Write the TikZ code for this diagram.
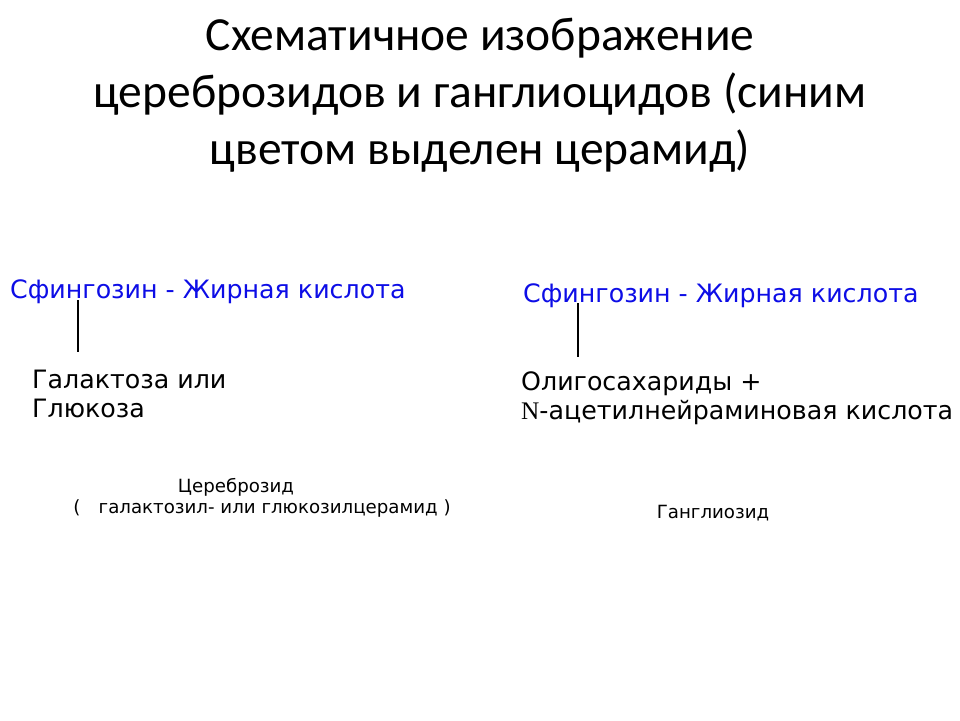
\documentclass[tikz,border=0pt]{standalone}
\usepackage{fontspec}
\setmainfont{DejaVu Sans}
\newfontfamily\titlefont{Carlito}
\newfontfamily\serifN{Liberation Serif}
\usepackage{tikz}
\usetikzlibrary{calc}
\definecolor{ceramide}{HTML}{0D0DE6}
\definecolor{ink}{HTML}{000000}
\tikzset{
  title/.style={text=ink, font=\titlefont\fontsize{47.5}{57}\selectfont, anchor=base, inner sep=0pt},
  lipid/.style={text=ceramide, font=\fontsize{25.3}{29}\selectfont, anchor=base west, inner sep=0pt},
  sugar/.style={text=ink, font=\fontsize{25.3}{29}\selectfont, anchor=base west, inner sep=0pt, align=left},
  caption/.style={text=ink, font=\fontsize{18.2}{21}\selectfont, anchor=base, inner sep=0pt},
  link/.style={draw=ink, line width=1.2pt},
}

\begin{document}
\begin{tikzpicture}[x=1pt, y=-1pt]
  \useasboundingbox (0,0) rectangle (960,720);
  % title
  \node[title] (head1) at (480,50) {Схематичное изображение};
  \node[title] (head2) at (480,107) {цереброзидов и ганглиоцидов (синим};
  \node[title] (head3) at (480,164) {цветом выделен церамид)};
  % cerebroside
  \node[lipid] (lipL) at (10,298) {Сфингозин - Жирная кислота};
  \node[sugar] (galL) at (32,388) {Галактоза или};
  \node[sugar] (gluL) at (32,417) {Глюкоза};
  \coordinate (bondLtop) at (78,300);
  \coordinate (bondLbot) at (78,352);
  \draw[link] (bondLtop) -- (bondLbot);
  \node[caption] (cereb) at (236,492) {Цереброзид};
  \node[caption] (cerebN) at (262,513) {(\quad галактозил- или глюкозилцерамид )};
  % ganglioside
  \node[lipid] (lipR) at (523,302) {Сфингозин - Жирная кислота};
  \node[sugar] (oliR) at (521,390) {Олигосахариды +};
  \node[sugar] (neuR) at (521,419) {{\serifN N}-ацетилнейраминовая кислота};
  \coordinate (bondRtop) at (578,303);
  \coordinate (bondRbot) at (578,357);
  \draw[link] (bondRtop) -- (bondRbot);
  \node[caption] (gangl) at (713,518) {Ганглиозид};
\end{tikzpicture}
\end{document}
